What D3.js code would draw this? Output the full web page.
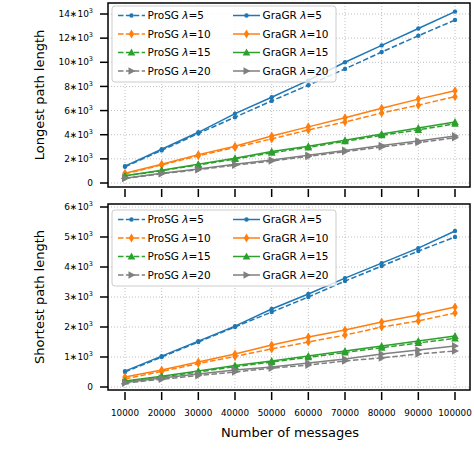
<!DOCTYPE html>
<html>
<head>
<meta charset="utf-8">
<script src="https://cdn.jsdelivr.net/npm/d3@7"></script>
<style>
  body { margin: 0; background: #fff; }
  text { font-family: "DejaVu Sans", sans-serif; fill: #000; }
</style>
</head>
<body>
<svg id="chart" width="474" height="462"></svg>
<script>
// messages on the x axis
const messages = [10000, 20000, 30000, 40000, 50000, 60000, 70000, 80000, 90000, 100000]

// longest path length (top panel)
const longProSG5  = [1350, 2700, 4100, 5450, 6800, 8100, 9450, 10850, 12200, 13500]
const longGraGR5  = [1400, 2800, 4200, 5750, 7100, 8500, 10000, 11400, 12800, 14200]
const longProSG10 = [750, 1500, 2250, 2950, 3650, 4400, 5050, 5800, 6450, 7150]
const longGraGR10 = [800, 1550, 2350, 3050, 3900, 4650, 5400, 6200, 6950, 7650]
const longProSG15 = [580, 1020, 1500, 1980, 2500, 2950, 3450, 3950, 4400, 4900]
const longGraGR15 = [600, 1050, 1550, 2050, 2600, 3050, 3550, 4050, 4550, 5050]
const longProSG20 = [380, 770, 1100, 1480, 1820, 2200, 2600, 2980, 3350, 3750]
const longGraGR20 = [400, 800, 1150, 1550, 1900, 2300, 2700, 3100, 3480, 3900]

// shortest path length (bottom panel)
const shortProSG5  = [500, 1000, 1500, 2000, 2500, 3000, 3530, 4030, 4530, 5000]
const shortGraGR5  = [530, 1030, 1530, 2030, 2600, 3100, 3630, 4130, 4630, 5200]
const shortProSG10 = [270, 520, 780, 1020, 1270, 1500, 1730, 2000, 2200, 2470]
const shortGraGR10 = [330, 570, 830, 1100, 1400, 1670, 1900, 2170, 2400, 2670]
const shortProSG15 = [180, 340, 500, 680, 830, 990, 1150, 1310, 1470, 1620]
const shortGraGR15 = [200, 360, 530, 720, 870, 1030, 1200, 1370, 1530, 1700]
const shortProSG20 = [130, 260, 380, 500, 630, 730, 870, 970, 1100, 1200]
const shortGraGR20 = [150, 300, 430, 570, 670, 800, 930, 1100, 1230, 1370]

const longTicks = [0, 2000, 4000, 6000, 8000, 10000, 12000, 14000]
const shortTicks = [0, 1000, 2000, 3000, 4000, 5000, 6000]

const lambdas = [5, 10, 15, 20]
const colors = ['#1f77b4', '#ff7f0e', '#2ca02c', '#7f7f7f']
const markers = ['point', 'thin_diamond', 'triangle_up', 'triangle_right']

const svg = d3.select('#chart')

const x = d3.scaleLinear().domain([10000, 100000]).range([125, 455])

function drawMarker(g, type, cx, cy, color){
    if (type == 'point'){
        g.append('circle').attr('cx', cx).attr('cy', cy).attr('r', 2.2).attr('fill', color)
    } else if (type == 'thin_diamond'){
        g.append('path').attr('d', `M${cx},${cy-4.5}L${cx+2.7},${cy}L${cx},${cy+4.5}L${cx-2.7},${cy}Z`).attr('fill', color)
    } else if (type == 'triangle_up'){
        g.append('path').attr('d', `M${cx},${cy-4}L${cx+3.8},${cy+3}L${cx-3.8},${cy+3}Z`).attr('fill', color)
    } else {
        g.append('path').attr('d', `M${cx+4},${cy}L${cx-3},${cy+3.8}L${cx-3},${cy-3.8}Z`).attr('fill', color)
    }
}

function fmtTick(v){
    if (v == 0) return '0'
    return (v/1000) + '∗10<tspan baseline-shift="super" font-size="6.5">3</tspan>'
}

function drawPanel(opts){
    const {top, bottom, y, ticks, series, label, showXLabels, legendTop} = opts
    const g = svg.append('g')
    const left = 108, right = 470

    // grid
    g.selectAll('.vgrid').data(messages).enter().append('line')
        .attr('x1', d=>x(d)).attr('x2', d=>x(d))
        .attr('y1', top).attr('y2', bottom)
        .attr('stroke', '#b0b0b0').attr('stroke-width', 0.8).attr('stroke-dasharray', '1,2')
    g.selectAll('.hgrid').data(ticks).enter().append('line')
        .attr('x1', left).attr('x2', right)
        .attr('y1', d=>y(d)).attr('y2', d=>y(d))
        .attr('stroke', '#b0b0b0').attr('stroke-width', 0.8).attr('stroke-dasharray', '1,2')

    // lines, dashed ProSG then solid GraGR
    series.forEach(function(s){
        const line = d3.line().x((d,i)=>x(messages[i])).y(d=>y(d))
        g.append('path').datum(s.values)
            .attr('d', line)
            .attr('fill', 'none')
            .attr('stroke', colors[s.k])
            .attr('stroke-width', 1.5)
            .attr('stroke-dasharray', s.dashed ? '5.5,2.4' : null)
        s.values.forEach(function(v, i){
            drawMarker(g, markers[s.k], x(messages[i]), y(v), colors[s.k])
        })
    })

    // frame
    g.append('rect').attr('x', left).attr('y', top)
        .attr('width', right-left).attr('height', bottom-top)
        .attr('fill', 'none').attr('stroke', '#000').attr('stroke-width', 1.5)

    // y axis
    const yAxis = g.append('g').attr('transform', `translate(${left},0)`)
    yAxis.selectAll('line').data(ticks).enter().append('line')
        .attr('x1', -8).attr('x2', 0)
        .attr('y1', d=>y(d)).attr('y2', d=>y(d))
        .attr('stroke', '#000').attr('stroke-width', 1.5)
    yAxis.selectAll('text').data(ticks).enter().append('text')
        .attr('x', -15).attr('y', d=>y(d)).attr('dy', '0.35em')
        .attr('text-anchor', 'end').attr('font-size', 9)
        .html(d=>fmtTick(d))

    // x axis ticks
    const xAxis = g.append('g').attr('transform', `translate(0,${bottom})`)
    xAxis.selectAll('line').data(messages).enter().append('line')
        .attr('x1', d=>x(d)).attr('x2', d=>x(d))
        .attr('y1', 2).attr('y2', 10)
        .attr('stroke', '#000').attr('stroke-width', 1.5)
    if (showXLabels){
        xAxis.selectAll('text').data(messages).enter().append('text')
            .attr('x', d=>x(d)).attr('y', 26)
            .attr('text-anchor', 'middle').attr('font-size', 8.8)
            .text(d=>d)
    }

    // y label
    g.append('text')
        .attr('transform', `translate(44,${(top+bottom)/2}) rotate(-90)`)
        .attr('text-anchor', 'middle').attr('font-size', 13)
        .text(label)

    // legend
    const lg = g.append('g')
    lg.append('rect').attr('x', 112).attr('y', legendTop)
        .attr('width', 224).attr('height', 76).attr('rx', 3)
        .attr('fill', 'rgba(255,255,255,0.8)').attr('stroke', '#cccccc').attr('stroke-width', 1)
    series.forEach(function(s){
        const col = s.dashed ? 0 : 1
        const hx = col == 0 ? 118 : 233
        const hy = legendTop + 9.5 + s.k*18.5
        lg.append('line').attr('x1', hx).attr('x2', hx+27).attr('y1', hy).attr('y2', hy)
            .attr('stroke', colors[s.k]).attr('stroke-width', 1.5)
            .attr('stroke-dasharray', s.dashed ? '5.5,2.4' : null)
        drawMarker(lg, markers[s.k], hx+13.5, hy, colors[s.k])
        lg.append('text').attr('x', hx+29.5).attr('y', hy).attr('dy', '0.35em')
            .attr('font-size', 10.5)
            .html((s.dashed ? 'ProSG ' : 'GraGR ') + '<tspan font-style="italic">λ</tspan>=' + lambdas[s.k])
    })
}

const yLong = d3.scaleLinear().domain([0, 14000]).range([183, 14])
const yShort = d3.scaleLinear().domain([0, 6000]).range([387, 207])

function buildSeries(pro, gra){
    const out = []
    for(let k=0; k<4; k++){
        out.push({k: k, dashed: true, values: pro[k]})
    }
    for(let k=0; k<4; k++){
        out.push({k: k, dashed: false, values: gra[k]})
    }
    return out
}

drawPanel({
    top: 3, bottom: 187, y: yLong, ticks: longTicks,
    series: buildSeries([longProSG5, longProSG10, longProSG15, longProSG20], [longGraGR5, longGraGR10, longGraGR15, longGraGR20]),
    label: 'Longest path length', showXLabels: false, legendTop: 6
})

drawPanel({
    top: 204, bottom: 390, y: yShort, ticks: shortTicks,
    series: buildSeries([shortProSG5, shortProSG10, shortProSG15, shortProSG20], [shortGraGR5, shortGraGR10, shortGraGR15, shortGraGR20]),
    label: 'Shortest path length', showXLabels: true, legendTop: 210
})

svg.append('text')
    .attr('x', 290).attr('y', 437)
    .attr('text-anchor', 'middle').attr('font-size', 13)
    .text('Number of messages')
</script>
</body>
</html>
